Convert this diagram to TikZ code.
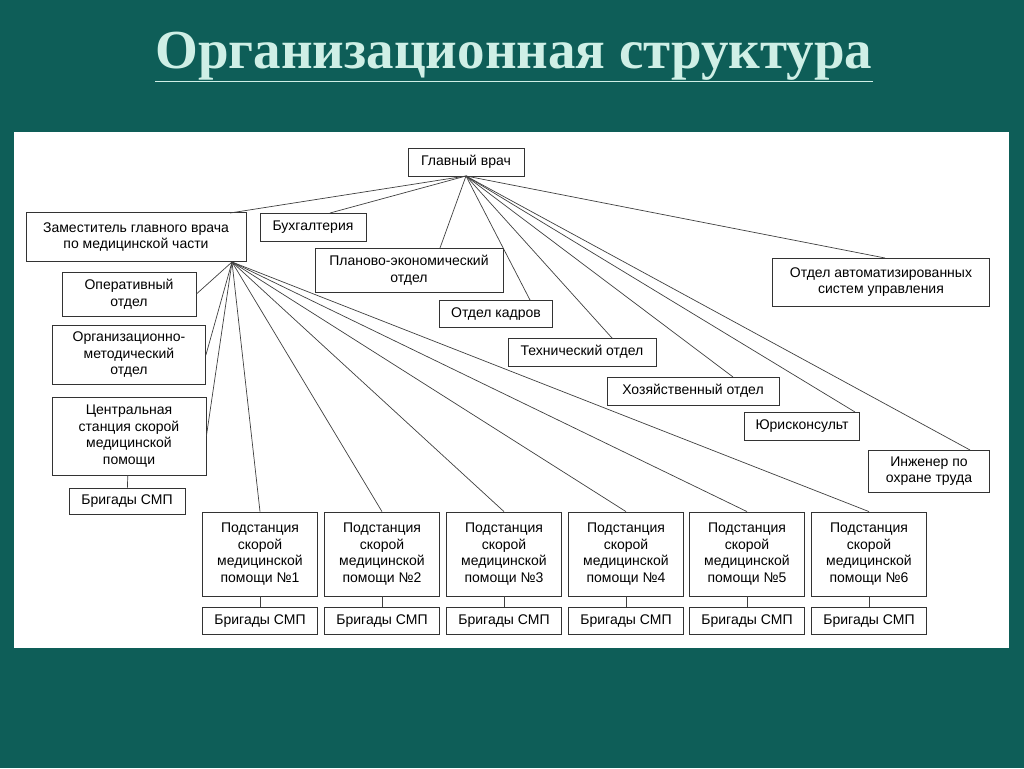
\documentclass[tikz,border=0pt]{standalone}
\usepackage{fontspec}
\setmainfont{Liberation Sans}
\newfontfamily\titlefont{Liberation Serif}
\definecolor{bgteal}{HTML}{0E5E58}
\definecolor{titlec}{HTML}{CFEFE6}
\tikzset{bx/.style={draw=black!80,fill=white,align=center,font=\fontsize{14}{16.5}\selectfont,inner sep=0pt,line width=0.8pt},
ln/.style={draw=black!75,line width=0.7pt}}
\begin{document}
\begin{tikzpicture}[x=1pt,y=-1pt]
\fill[bgteal] (0,0) rectangle (1024,768);
\useasboundingbox (0,0) rectangle (1024,768);
\fill[white] (14,132) rectangle (1009,648);
\node[font=\titlefont\bfseries\fontsize{55}{60}\selectfont,text=titlec] (title) at (514,57) {\underline{Организационная структура}};
\foreach \n/\t in {gv/Главный врач} {}
\node[bx,minimum width=116,minimum height=28] (gv) at (466,162) {Главный врач};
\node[bx,minimum width=220,minimum height=49] (zam) at (136,237) {Заместитель главного врача\\по медицинской части};
\node[bx,minimum width=106,minimum height=28] (buh) at (313,227) {Бухгалтерия};
\node[bx,minimum width=188,minimum height=44] (plan) at (409,270) {Планово-экономический\\отдел};
\node[bx,minimum width=113,minimum height=27] (kadr) at (496,314) {Отдел кадров};
\node[bx,minimum width=148,minimum height=28] (tech) at (582,352) {Технический отдел};
\node[bx,minimum width=172,minimum height=28] (hoz) at (693,391) {Хозяйственный отдел};
\node[bx,minimum width=115,minimum height=28] (jur) at (802,426) {Юрисконсульт};
\node[bx,minimum width=121,minimum height=42] (ing) at (929,471) {Инженер по\\охране труда};
\node[bx,minimum width=217,minimum height=48] (asu) at (881,282) {Отдел автоматизированных\\систем управления};
\node[bx,minimum width=134,minimum height=44] (oper) at (129,294) {Оперативный\\отдел};
\node[bx,minimum width=153,minimum height=59] (org) at (129,355) {Организационно-\\методический\\отдел};
\node[bx,minimum width=154,minimum height=78] (cen) at (129,436) {Центральная\\станция скорой\\медицинской\\помощи};
\node[bx,minimum width=116,minimum height=26] (cb) at (127,501) {Бригады СМП};
\coordinate (gvb) at (466,176);
\coordinate (zb) at (232,262);
\foreach \t in {{(230,213)},{(330,213)},{(440,248)},{(530,300)},{(612,338)},{(733,377)},{(855,412)},{(970,450)},{(885,258)}}
  \draw[ln] (gvb) -- \t;
\draw[ln] (zb) -- (oper.east);
\draw[ln] (zb) -- (org.east);
\draw[ln] (zb) -- (cen.east);
\draw[ln] (cen) -- (cb);
\foreach \i/\x in {1/260,2/382,3/504,4/626,5/747,6/869}{
  \node[bx,minimum width=115,minimum height=84] (s\i) at (\x,554) {Подстанция\\скорой\\медицинской\\помощи №\i};
  \node[bx,minimum width=115,minimum height=27] (b\i) at (\x,621) {Бригады СМП};
  \draw[ln] (s\i) -- (b\i);
  \draw[ln] (zb) -- (s\i.north);
}
\end{tikzpicture}
\end{document}
